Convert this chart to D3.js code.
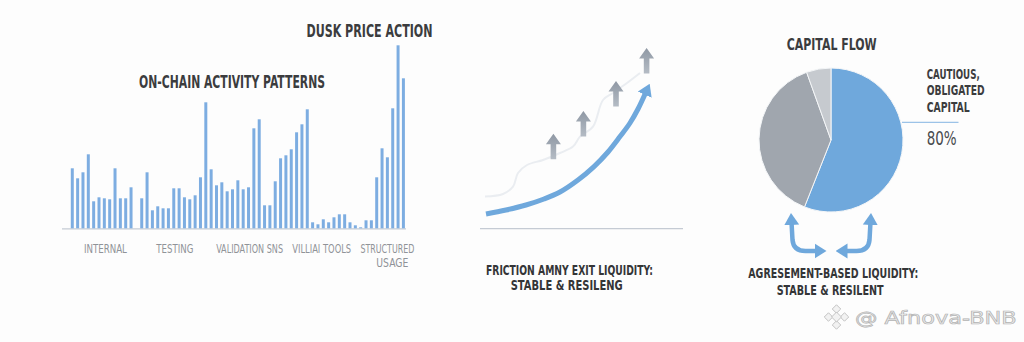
<!DOCTYPE html>
<html>
<head>
<meta charset="utf-8">
<script src="https://cdn.jsdelivr.net/npm/d3@7"></script>
<style>
  body { margin: 0; background: #fdfdfd; }
  text { font-family: 'Liberation Sans Narrow', 'DejaVu Sans Condensed', sans-serif; }
</style>
</head>
<body>
<div id="chart"></div>
<script>
// Data
// ---------------------------------------------------------------
// bar heights of the activity chart (0 = empty slot)
var activity = [60, 50, 56, 74, 27, 31, 30, 29, 60, 30, 30, 41,
    0,
    30, 56, 18, 22, 20, 20, 40, 40, 31, 29, 33, 51, 126, 59, 43, 46, 37, 39, 48, 39, 41, 100, 109,
    23, 23, 47, 70, 73, 79, 96, 104, 119,
    6, 4, 9, 6, 11, 14, 14, 6, 3, 1, 8, 8,
    51, 80, 71, 120, 183, 150];
var activityLabels = ["INTERNAL", "TESTING", "VALIDATION SNS", "VILLIAI TOOLS", "STRUCTURED"];
var activityLabelAt = [6.2, 19.2, 33.2, 46.7, 59.0];

// growth curve (blue) and the faint price line
var curveX = [0.3, 1.3, 2.3, 3.2, 4.0, 4.9, 5.7, 6.4, 7.0, 7.5, 7.9, 8.3];
var curveY = [0.7, 0.9, 1.15, 1.45, 1.8, 2.4, 3.07, 3.8, 4.57, 5.25, 5.95, 6.8];
var priceX = [0.25, 1.15, 1.65, 1.9, 2.35, 3.15, 4.0, 4.65, 5.0, 5.65, 6.15, 6.65, 7.35, 8.0];
var priceY = [1.57, 1.7, 2.07, 2.75, 3.15, 3.4, 3.75, 4.07, 4.57, 5.07, 6.4, 6.75, 7.25, 7.75];
var upArrowX = [3.67, 5.17, 6.8, 8.33];
var upArrowY = [3.44, 4.57, 6.07, 7.73];

// capital flow pie
var flowNames = ["obligated", "other", "rest"];
var flowValues = [56, 38.5, 5.5];
var flowColors = ["#6fa8dc", "#a0a6ae", "#c6cacf"];

var svgWidth = 1024;
var svgHeight = 342;

var svg = d3.select("#chart")
    .append("svg")
    .attr("width", svgWidth)
    .attr("height", svgHeight);

svg.append("rect")
    .attr("width", svgWidth)
    .attr("height", svgHeight)
    .attr("fill", "#fdfdfd");

// helper for titles and captions
function label(txt, x, y, width, size, color, anchor) {
    return svg.append("text")
        .attr("x", x)
        .attr("y", y)
        .attr("text-anchor", anchor || "start")
        .attr("font-size", size)
        .attr("font-weight", "bold")
        .attr("fill", color)
        .attr("textLength", width)
        .attr("lengthAdjust", "spacingAndGlyphs")
        .text(txt);
}

// squeezed text: real horizontal scale so its box is the drawn box
function squeezed(txt, x, y, width, size, color, anchor) {
    var t = svg.append("text")
        .attr("text-anchor", anchor)
        .attr("font-size", size)
        .attr("fill", color)
        .text(txt);
    var w = t.node().getComputedTextLength();
    t.attr("transform", `translate(${x}, ${y}) scale(${width / w}, 1)`);
    return t;
}

// ---------------------------------------------------------------
// Left panel: bar chart
var xBar = d3.scaleBand()
    .domain(d3.range(activity.length))
    .range([70.8, 404.9])
    .paddingInner(0.44)
    .paddingOuter(0);

var yBar = d3.scaleLinear()
    .domain([0, 200])
    .range([228.3, 28.3]);

svg.append("line")
    .attr("x1", 62).attr("x2", 406)
    .attr("y1", 228.8).attr("y2", 228.8)
    .attr("stroke", "#c5cbd4")
    .attr("stroke-width", 1.2);

svg.append("g")
    .selectAll("rect")
    .data(activity)
    .enter()
    .append("rect")
    .attr("x", (d, i) => xBar(i))
    .attr("y", d => yBar(d))
    .attr("width", xBar.bandwidth())
    .attr("height", d => yBar(0) - yBar(d))
    .attr("fill", "#7dade1");

var barCenter = i => xBar(0) + xBar.step() * i + xBar.bandwidth() / 2;
var labelWidths = [43, 37, 67, 59, 54];

activityLabels.forEach(function (t, i) {
    squeezed(t, barCenter(activityLabelAt[i]), 253.3, labelWidths[i], 12.5, "#909398", "middle");
});
squeezed("USAGE", 408.3, 266.8, 32, 12.5, "#909398", "end");

label("ON-CHAIN ACTIVITY PATTERNS", 139, 87.5, 186, 18, "#3b3c3e");
label("DUSK PRICE ACTION", 306.5, 37.4, 126, 18, "#3b3c3e");

// ---------------------------------------------------------------
// Middle panel: growth curve
var xMid = d3.scaleLinear().domain([0, 10]).range([480, 680]);
var yMid = d3.scaleLinear().domain([0, 10]).range([228, 28]);

svg.append("line")
    .attr("x1", 480).attr("x2", 683)
    .attr("y1", 228.6).attr("y2", 228.6)
    .attr("stroke", "#c5cbd4")
    .attr("stroke-width", 1.2);

var midLine = d3.line()
    .x(d => xMid(d[0]))
    .y(d => yMid(d[1]))
    .curve(d3.curveCatmullRom);

svg.append("path")
    .datum(d3.zip(priceX, priceY))
    .attr("d", midLine)
    .attr("fill", "none")
    .attr("stroke", "#eaedf1")
    .attr("stroke-width", 2);

var defs = svg.append("defs");
defs.append("marker")
    .attr("id", "blueHead")
    .attr("markerUnits", "userSpaceOnUse")
    .attr("viewBox", "0 -8 12 16")
    .attr("refX", 3)
    .attr("refY", 0)
    .attr("markerWidth", 12)
    .attr("markerHeight", 16)
    .attr("orient", "auto-start-reverse")
    .append("path")
    .attr("d", "M0,-7.5L12,0L0,7.5Z")
    .attr("fill", "#6fa8dc");

svg.append("path")
    .datum(d3.zip(curveX, curveY))
    .attr("d", midLine)
    .attr("fill", "none")
    .attr("stroke", "#6fa8dc")
    .attr("stroke-width", 5)
    .attr("marker-end", "url(#blueHead)");

// gray up arrows
var grad = defs.append("linearGradient")
    .attr("id", "grayUp")
    .attr("x1", 0).attr("x2", 0).attr("y1", 0).attr("y2", 1);
grad.append("stop").attr("offset", "0%").attr("stop-color", "#8f98a4");
grad.append("stop").attr("offset", "100%").attr("stop-color", "#b5bcc5");

svg.append("g")
    .selectAll("path")
    .data(d3.zip(upArrowX, upArrowY))
    .enter()
    .append("path")
    .attr("transform", d => `translate(${xMid(d[0])}, ${yMid(d[1])})`)
    .attr("d", "M-2.8,0L-2.8,-15L-7.5,-15L0,-25.5L7.5,-15L2.8,-15L2.8,0Z")
    .attr("fill", "url(#grayUp)");

label("FRICTION AMNY EXIT LIQUIDITY:", 486, 275.3, 167, 14, "#343537");
label("STABLE & RESILENG", 510.7, 290.3, 112, 14, "#343537");

// ---------------------------------------------------------------
// Right panel: capital flow pie
var pieCx = 831;
var pieCy = 140;
var pieR = 72;

var pie = d3.pie().sort(null).value(d => d);
var arc = d3.arc().innerRadius(0).outerRadius(pieR);

svg.append("g")
    .attr("transform", `translate(${pieCx}, ${pieCy})`)
    .selectAll("path")
    .data(pie(flowValues))
    .enter()
    .append("path")
    .attr("d", arc)
    .attr("fill", (d, i) => flowColors[i])
    .attr("stroke", "#f4f6f8")
    .attr("stroke-width", 1);

label("CAPITAL FLOW", 786.7, 50, 90, 16, "#3b3c3e");
label("CAUTIOUS,", 926.7, 78.5, 53, 14, "#3b3c3e");
label("OBLIGATED", 926.7, 95, 58, 14, "#3b3c3e");
label("CAPITAL", 926.7, 111.8, 43, 14, "#3b3c3e");

svg.append("line")
    .attr("x1", pieCx + pieR - 1).attr("x2", 958.5)
    .attr("y1", 122.3).attr("y2", 122.3)
    .attr("stroke", "#9cc3e8")
    .attr("stroke-width", 1.2);

svg.append("text")
    .attr("x", 926.7)
    .attr("y", 145)
    .attr("font-size", 20)
    .attr("fill", "#4a4b4e")
    .attr("textLength", 30)
    .attr("lengthAdjust", "spacingAndGlyphs")
    .text("80%");

// curved exchange arrows under the pie
var loop = "M0,0 L1,18 Q2,29 14,29 L26,29";
[1, -1].forEach(function (s) {
    svg.append("path")
        .attr("transform", `translate(${pieCx + s * 39.5}, 222) scale(${-s}, 1)`)
        .attr("d", loop)
        .attr("fill", "none")
        .attr("stroke", "#6fa8dc")
        .attr("stroke-width", 4.5)
        .attr("marker-start", "url(#blueHead)")
        .attr("marker-end", "url(#blueHead)");
});

label("AGRESEMENT-BASED LIQUIDITY:", 748.3, 277.5, 170, 14, "#343537");
label("STABLE & RESILENT", 776.7, 295, 107, 14, "#343537");

// ---------------------------------------------------------------
// watermark
var wm = svg.append("g").attr("transform", "translate(836.5, 317)");
[[0, -8], [-8, 0], [8, 0], [0, 8], [0, 0]].forEach(function (p, i) {
    wm.append("rect")
        .attr("x", p[0] - (i === 4 ? 3.5 : 3))
        .attr("y", p[1] - (i === 4 ? 3.5 : 3))
        .attr("width", i === 4 ? 7 : 6)
        .attr("height", i === 4 ? 7 : 6)
        .attr("transform", `rotate(45, ${p[0]}, ${p[1]})`)
        .attr("fill", "#f2f2f2")
        .attr("stroke", "#b9b9b9")
        .attr("stroke-width", 0.8);
});

svg.append("text")
    .attr("x", 855)
    .attr("y", 323.5)
    .attr("font-size", 18)
    .attr("fill", "#ececec")
    .attr("stroke", "#b3b3b3")
    .attr("stroke-width", 0.7)
    .attr("textLength", 161.7)
    .attr("lengthAdjust", "spacingAndGlyphs")
    .style("font-family", "'DejaVu Sans', sans-serif")
    .text("@ Afnova-BNB");
</script>
</body>
</html>
